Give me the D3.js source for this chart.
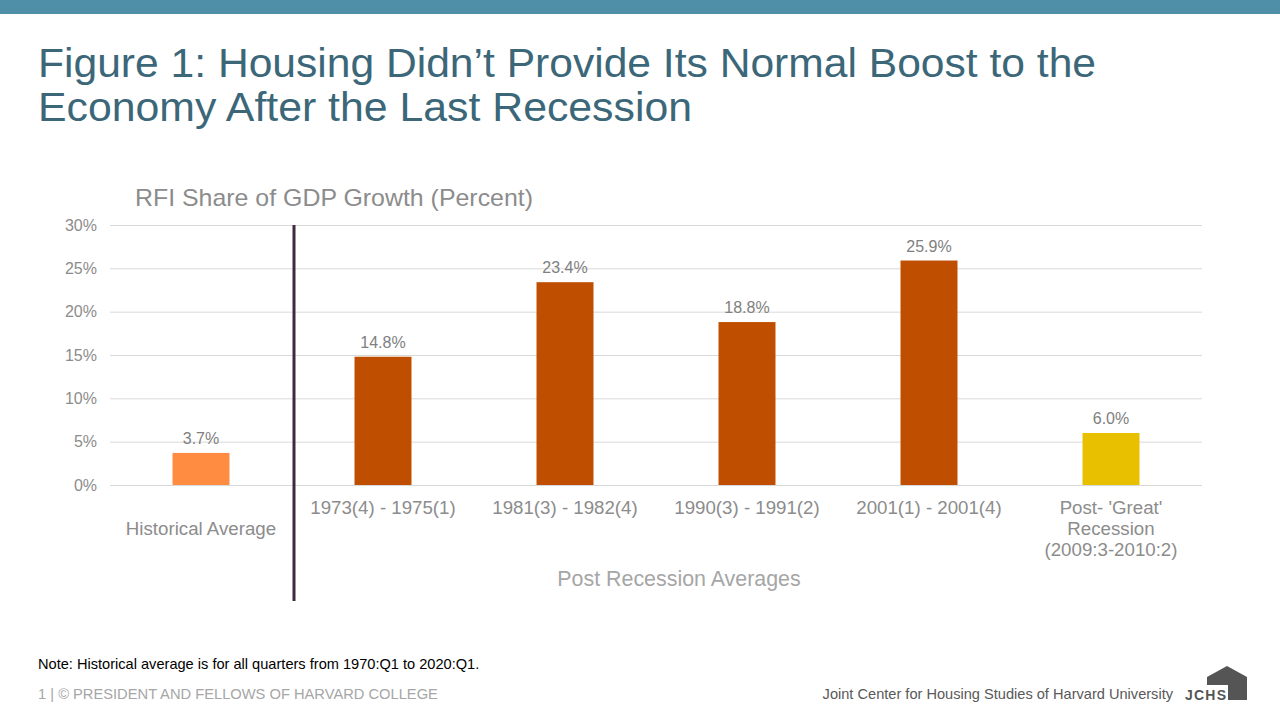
<!DOCTYPE html>
<html lang="en">
<head>
<meta charset="utf-8">
<script src="https://cdn.jsdelivr.net/npm/d3@7"></script>
<style>
  body { margin: 0; background: #fff; }
  svg { display: block; font-family: "Liberation Sans", Arial, sans-serif; }
</style>
</head>
<body>
<div id="svg"></div>

<script>
    // chart data
    var categories = ["Historical Average", "1973(4) - 1975(1)", "1981(3) - 1982(4)",
                      "1990(3) - 1991(2)", "2001(1) - 2001(4)", "Post- 'Great' Recession (2009:3-2010:2)"];
    var catLines = [["Historical Average"], ["1973(4) - 1975(1)"], ["1981(3) - 1982(4)"],
                    ["1990(3) - 1991(2)"], ["2001(1) - 2001(4)"],
                    ["Post- 'Great'", "Recession", "(2009:3-2010:2)"]];
    var values = [3.7, 14.8, 23.4, 18.8, 25.9, 6.0];
    var barColors = ["#ff8c40", "#c04e00", "#c04e00", "#c04e00", "#c04e00", "#e8c000"];
    var yTicks = [0, 5, 10, 15, 20, 25, 30];

    var W = 1280, H = 720;
    var plot = {left: 110, right: 1202, top: 225, bottom: 485};

    var svg = d3.select("#svg").append("svg")
        .attr("width", W)
        .attr("height", H);

    // top band
    svg.append("rect")
        .attr("x", 0).attr("y", 0)
        .attr("width", W).attr("height", 14)
        .attr("fill", "#4f8fa8");

    // title (slide font is a bit wider than Liberation Sans)
    svg.append("text")
        .attr("x", 38).attr("y", 77)
        .attr("font-size", 41)
        .attr("fill", "#3b6779")
        .attr("textLength", 1058)
        .attr("lengthAdjust", "spacingAndGlyphs")
        .text("Figure 1: Housing Didn\u2019t Provide Its Normal Boost to the");
    svg.append("text")
        .attr("x", 38).attr("y", 121)
        .attr("font-size", 41)
        .attr("fill", "#3b6779")
        .attr("textLength", 654)
        .attr("lengthAdjust", "spacingAndGlyphs")
        .text("Economy After the Last Recession");

    // chart title
    svg.append("text")
        .attr("x", 135).attr("y", 206)
        .attr("font-size", 24)
        .attr("fill", "#8c8c8c")
        .attr("textLength", 398)
        .attr("lengthAdjust", "spacingAndGlyphs")
        .text("RFI Share of GDP Growth (Percent)");

    var x = d3.scaleBand()
        .domain(categories)
        .range([plot.left, plot.right])
        .padding(0);

    var y = d3.scaleLinear()
        .domain([0, 30])
        .range([plot.bottom, plot.top]);

    var barW = x.bandwidth() * 0.313;

    // gridlines
    svg.append("g")
        .selectAll("line")
        .data(yTicks)
      .enter().append("line")
        .attr("x1", plot.left).attr("x2", plot.right)
        .attr("y1", function(d){ return y(d) + 0.5; })
        .attr("y2", function(d){ return y(d) + 0.5; })
        .attr("stroke", "#d9d9d9")
        .attr("stroke-width", 1);

    // y axis labels
    var yAxis = svg.append("g")
        .attr("transform", "translate(" + (plot.left - 13) + ",0)")
        .call(d3.axisLeft(y).tickValues(yTicks).tickSize(0).tickPadding(0)
              .tickFormat(function(d){ return d + "%"; }));
    yAxis.select(".domain").remove();
    yAxis.selectAll("text")
        .attr("font-family", "Liberation Sans, Arial, sans-serif")
        .attr("font-size", 16)
        .attr("fill", "#8c8c8c");

    // bars
    svg.append("g")
        .selectAll("rect")
        .data(values)
      .enter().append("rect")
        .attr("x", function(d, i){ return x(categories[i]) + (x.bandwidth() - barW) / 2; })
        .attr("y", function(d){ return y(d); })
        .attr("width", barW)
        .attr("height", function(d){ return y(0) - y(d); })
        .attr("fill", function(d, i){ return barColors[i]; });

    // value labels
    svg.append("g")
        .selectAll("text")
        .data(values)
      .enter().append("text")
        .attr("x", function(d, i){ return x(categories[i]) + x.bandwidth() / 2; })
        .attr("y", function(d){ return y(d) - 9; })
        .attr("text-anchor", "middle")
        .attr("font-size", 16)
        .attr("fill", "#808080")
        .text(function(d){ return d.toFixed(1) + "%"; });

    // category labels
    var cat = svg.append("g")
        .selectAll("text")
        .data(catLines)
      .enter().append("text")
        .attr("text-anchor", "middle")
        .attr("font-size", 18.7)
        .attr("fill", "#8c8c8c")
        .attr("x", function(d, i){ return x(categories[i]) + x.bandwidth() / 2; })
        .attr("y", function(d, i){ return i === 0 ? 535 : 514; });
    cat.selectAll("tspan")
        .data(function(d, i){ return d.map(function(t){ return {t: t, i: i}; }); })
      .enter().append("tspan")
        .attr("x", function(d){ return x(categories[d.i]) + x.bandwidth() / 2; })
        .attr("dy", function(d, j){ return j === 0 ? 0 : 21; })
        .text(function(d){ return d.t; });

    // group label
    svg.append("text")
        .attr("x", 679)
        .attr("y", 586)
        .attr("text-anchor", "middle")
        .attr("font-size", 21.4)
        .attr("fill", "#a6a6a6")
        .text("Post Recession Averages");

    // separator
    svg.append("line")
        .attr("x1", 294).attr("x2", 294)
        .attr("y1", plot.top).attr("y2", 601)
        .attr("stroke", "#3f2a3f")
        .attr("stroke-width", 3);

    // note and footer
    svg.append("text")
        .attr("x", 38).attr("y", 669)
        .attr("font-size", 14.6)
        .attr("fill", "#000")
        .text("Note: Historical average is for all quarters from 1970:Q1 to 2020:Q1.");

    svg.append("text")
        .attr("x", 38).attr("y", 699)
        .attr("font-size", 14.7)
        .attr("fill", "#a6a6a6")
        .text("1 | \u00a9 PRESIDENT AND FELLOWS OF HARVARD COLLEGE");

    svg.append("text")
        .attr("x", 1173).attr("y", 699)
        .attr("text-anchor", "end")
        .attr("font-size", 14.6)
        .attr("fill", "#595959")
        .text("Joint Center for Housing Studies of Harvard University");

    // logo
    svg.append("path")
        .attr("d", "M1207,677 L1227,666 L1247,677 L1247,700 L1228,700 L1228,685 L1207,685 Z")
        .attr("fill", "#555");
    svg.append("text")
        .attr("x", 1185).attr("y", 700)
        .attr("font-size", 14)
        .attr("font-weight", "bold")
        .attr("textLength", 41)
        .attr("lengthAdjust", "spacing")
        .attr("fill", "#555")
        .text("JCHS");
</script>
</body>
</html>
